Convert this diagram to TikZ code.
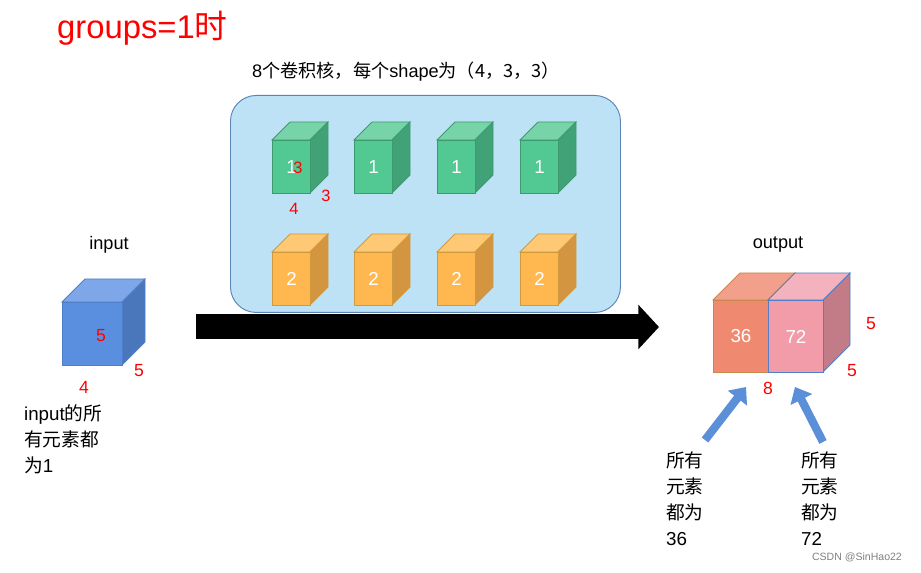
\documentclass[tikz,border=0pt]{standalone}
\usepackage{fontspec}
\setmainfont{Liberation Sans}
\newfontfamily\cjk{Noto Sans CJK SC}
\usetikzlibrary{arrows.meta}
\definecolor{gF}{HTML}{52C993}\definecolor{gT}{HTML}{77D3A8}\definecolor{gS}{HTML}{41A277}\definecolor{gB}{HTML}{3E9A6E}
\definecolor{oF}{HTML}{FFB84F}\definecolor{oT}{HTML}{FFC874}\definecolor{oS}{HTML}{D39540}\definecolor{oB}{HTML}{D09A3E}
\definecolor{bF}{HTML}{5A8FE0}\definecolor{bT}{HTML}{7DA7E8}\definecolor{bS}{HTML}{4A77BB}\definecolor{bB}{HTML}{4F7FC8}
\definecolor{rF}{HTML}{EF8A70}\definecolor{rT}{HTML}{F2A08C}\definecolor{rS}{HTML}{C87060}\definecolor{rB}{HTML}{C8884C}
\definecolor{pF}{HTML}{F29CAA}\definecolor{pT}{HTML}{F4B2BE}\definecolor{pS}{HTML}{C27C88}\definecolor{pB}{HTML}{4F7FC8}
\definecolor{boxC}{HTML}{BDE2F5}\definecolor{boxB}{HTML}{5A84B8}\definecolor{arrB}{HTML}{5B8FD8}
% #1 name, #2 x, #3 y (top-left of front), #4 w, #5 h, #6 d, #7 prefix colour, #8 label
\newcommand\mycube[8]{%
  \fill[#7T,draw=#7B,line width=0.8pt] (#2,#3) -- ++(#6,-#6) -- ++(#4,0) -- ++(-#6,#6) -- cycle;
  \fill[#7S,draw=#7B,line width=0.8pt] (#2+#4,#3) -- ++(#6,-#6) -- ++(0,#5) -- ++(-#6,#6) -- cycle;
  \node[draw=#7B,fill=#7F,line width=0.8pt,minimum width=#4*0.03cm,minimum height=#5*0.03cm,anchor=north west,inner sep=0pt,text=white,font=\fontsize{16}{16}\selectfont] (#1) at (#2,#3) {#8};}
\begin{document}
\begin{tikzpicture}[x=0.03cm,y=-0.03cm,
  red/.style={text=red,font=\fontsize{15}{15}\selectfont},
  lbl/.style={font=\fontsize{15.5}{18}\selectfont,align=left}]
\useasboundingbox (0,0) rectangle (921,573);
\node[text=red,font=\fontsize{28}{28}\selectfont,anchor=west] (title) at (53,28) {groups=1\cjk 时};
\node[lbl,anchor=west] (ktxt) at (248,72) {8\cjk 个卷积核，每个\rmfamily shape\cjk 为（4，3，3）};
\node[draw=boxB,fill=boxC,rounded corners=22pt,line width=0.8pt,minimum width=390*0.03cm,minimum height=217*0.03cm,anchor=north west] (kbox) at (230,95) {};
\foreach \i/\x in {1/272,2/354,3/437,4/520}{
  \mycube{g\i}{\x}{140}{38}{53}{18}{g}{1}
  \mycube{o\i}{\x}{252}{38}{53}{18}{o}{2}
}
\node[red,font=\fontsize{14}{14}\selectfont] (k3a) at (298,168) {3};
\node[red,font=\fontsize{14}{14}\selectfont] (k3b) at (326,196) {3};
\node[red,font=\fontsize{14}{14}\selectfont] (k4) at (294,209) {4};
% input
\node[lbl] (intxt) at (109,245) {input};
\mycube{inp}{62}{302}{60}{63}{23}{b}{}
\node[red] (i5a) at (101,336) {5};
\node[red] (i5b) at (139,371) {5};
\node[red] (i4) at (84,387) {4};
\node[lbl,anchor=north west,font=\cjk\fontsize{16}{22}\selectfont] (indesc) at (20,401) {{\rmfamily input}的所\\有元素都\\为{\rmfamily 1}};
% arrow
\coordinate (as) at (196,327); \coordinate (ae) at (659,327);
\draw[line width=0.75cm,-{Triangle[length=0.62cm,width=1.3cm]}] (as) -- (ae);
% output
\node[lbl] (outtxt) at (778,245) {output};
\mycube{out1}{713}{300}{55}{72}{27}{r}{36}
\fill[pS,draw=pB,line width=0.8pt] (823,300) -- ++(27,-27) -- ++(0,72) -- ++(-27,27) -- cycle;
\fill[pT,draw=pB,line width=0.8pt] (768,300) -- ++(27,-27) -- ++(55,0) -- ++(-27,27) -- cycle;
\node[draw=pB,fill=pF,line width=0.8pt,minimum width=55*0.03cm,minimum height=72*0.03cm,anchor=north west,inner sep=0pt,text=white,font=\fontsize{16}{16}\selectfont] (out2) at (768,300) {72};
\node[red] (o5a) at (871,324) {5};
\node[red] (o5b) at (852,371) {5};
\node[red] (o8) at (768,388) {8};
\coordinate (b1s) at (705,440); \coordinate (b1e) at (746,387);
\coordinate (b2s) at (823,442); \coordinate (b2e) at (795,387);
\draw[arrB,line width=7pt,-{Triangle[length=12pt,width=20pt]}] (b1s) -- (b1e);
\draw[arrB,line width=7pt,-{Triangle[length=12pt,width=20pt]}] (b2s) -- (b2e);
\node[lbl,anchor=north west,font=\cjk\fontsize{16}{22}\selectfont] (d36) at (662,448) {所有\\元素\\都为\\{\rmfamily 36}};
\node[lbl,anchor=north west,font=\cjk\fontsize{16}{22}\selectfont] (d72) at (797,448) {所有\\元素\\都为\\{\rmfamily 72}};
\node[text=gray,font=\fontsize{9}{9}\selectfont,anchor=east] (csdn) at (906,557) {CSDN @SinHao22};
\end{tikzpicture}
\end{document}
